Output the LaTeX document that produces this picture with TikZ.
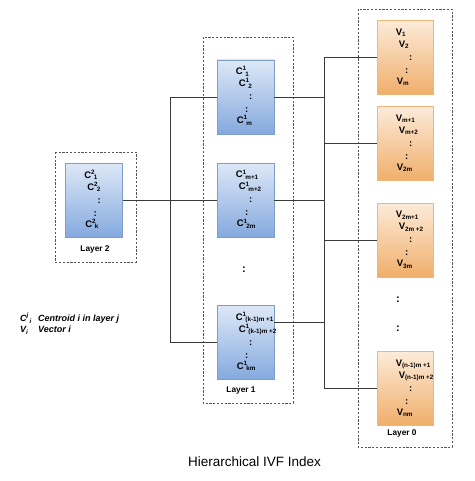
\documentclass[tikz,border=0pt]{standalone}
\usepackage{fontspec}
\setmainfont{Liberation Sans}
\definecolor{bluetop}{HTML}{DDE8F7}
\definecolor{bluebot}{HTML}{84A9DE}
\definecolor{blueedge}{HTML}{7E9DCB}
\definecolor{orgtop}{HTML}{FCEBD9}
\definecolor{orgbot}{HTML}{F0AE6A}
\definecolor{orgedge}{HTML}{EFB579}
\definecolor{linec}{HTML}{3A3A3A}
\definecolor{dashc}{HTML}{555555}
\newcommand\supfont{\fontsize{6.3}{7}\selectfont}
\newcommand\CS[3]{#1\rlap{\raisebox{3.6pt}{\supfont #2}}\hspace{2.8pt}\raisebox{-1.5pt}{\supfont #3}}
\newcommand\VS[2]{#1\raisebox{-1.5pt}{\supfont #2}}
\tikzset{
  txt/.style={inner sep=0pt, font=\fontsize{9.5}{10}\selectfont\bfseries},
  cbox/.style={draw=blueedge, line width=0.8pt, top color=bluetop, bottom color=bluebot, minimum width=57, minimum height=74, inner sep=0pt},
  vbox/.style={draw=orgedge, line width=0.8pt, top color=orgtop, bottom color=orgbot, minimum width=56, minimum height=74, inner sep=0pt},
  layerbox/.style={draw=dashc, line width=0.8pt, dash pattern=on 2.2pt off 1.6pt},
  conn/.style={draw=linec, line width=0.9pt},
  lbl/.style={inner sep=0pt, font=\fontsize{8.3}{9}\selectfont\bfseries},
}
\newcommand\boxlines[4]{%
  \begin{scope}[shift={(#1.north west)}]
    \node[txt, anchor=base west] (#1-a) at (19,15) {#2};
    \node[txt, anchor=base west] (#1-b) at (22,27) {#3};
    \node[txt, anchor=base] (#1-c) at (34,40) {:};
    \node[txt, anchor=base] (#1-d) at (30,53) {:};
    \node[txt, anchor=base west] (#1-e) at (20,64) {#4};
  \end{scope}}
\begin{document}
\begin{tikzpicture}[x=1pt, y=-1pt]
\useasboundingbox[fill=white] (0,0) rectangle (474,481);
% layer frames
\draw[layerbox] (55,152) rectangle (136,262);
\draw[layerbox] (203,37) rectangle (293,403);
\draw[layerbox] (358,9) rectangle (452,447);
% layer 2
\node[cbox] (l2) at (94,200.5) {};
\boxlines{l2}{\CS{C}{2}{1}}{\CS{C}{2}{2}}{\CS{C}{2}{k}}
\node[lbl] (l2lbl) at (95,249) {Layer 2};
% layer 1
\node[cbox] (l1a) at (245.5,97) {};
\node[cbox] (l1b) at (245.5,200) {};
\node[cbox] (l1c) at (245.5,342.5) {};
\boxlines{l1a}{\CS{C}{1}{1}}{\CS{C}{1}{2}}{\CS{C}{1}{m}}
\boxlines{l1b}{\CS{C}{1}{m+1}}{\CS{C}{1}{m+2}}{\CS{C}{1}{2m}}
\boxlines{l1c}{\CS{C}{1}{(k-1)m +1}}{\CS{C}{1}{(k-1)m +2}}{\CS{C}{1}{km}}
\node[txt, font=\fontsize{11}{12}\selectfont\bfseries] (l1dots) at (244,270) {:};
\node[lbl] (l1lbl) at (241,391) {Layer 1};
% layer 0
\node[vbox] (v1) at (405,57.5) {};
\node[vbox] (v2) at (405,143.5) {};
\node[vbox] (v3) at (405,240) {};
\node[vbox] (v4) at (405,388.5) {};
\boxlines{v1}{\VS{V}{1}}{\VS{V}{2}}{\VS{V}{m}}
\boxlines{v2}{\VS{V}{m+1}}{\VS{V}{m+2}}{\VS{V}{2m}}
\boxlines{v3}{\VS{V}{2m+1}}{\VS{V}{2m +2}}{\VS{V}{3m}}
\boxlines{v4}{\VS{V}{(n-1)m +1}}{\VS{V}{(n-1)m +2}}{\VS{V}{nm}}
\node[txt, font=\fontsize{11}{12}\selectfont\bfseries] (v0dotsa) at (398,300) {:};
\node[txt, font=\fontsize{11}{12}\selectfont\bfseries] (v0dotsb) at (398,329) {:};
\node[lbl] (l0lbl) at (402,433) {Layer 0};
% connectors
\coordinate (lbus) at (170,0);
\coordinate (rbus) at (324,0);
\draw[conn] (l2.east) -- (l2.east -| lbus);
\draw[conn] (l1a.west -| lbus) -- (l1c.west -| lbus);
\draw[conn] (l1a.west -| lbus) -- (l1a.west);
\draw[conn] (l1b.west -| lbus) -- (l1b.west);
\draw[conn] (l1c.west -| lbus) -- (l1c.west);
\draw[conn] (v1.west -| rbus) -- (v4.west -| rbus);
\draw[conn] (l1a.east) -- (l1a.east -| rbus);
\draw[conn] (l1b.east) -- (l1b.east -| rbus);
\draw[conn] ([yshift=20pt]l1c.east) -- ([yshift=20pt]l1c.east -| rbus);
\draw[conn] (v1.west -| rbus) -- (v1.west);
\draw[conn] (v2.west -| rbus) -- (v2.west);
\draw[conn] (v3.west -| rbus) -- (v3.west);
\draw[conn] (v4.west -| rbus) -- (v4.west);
% legend
\node[txt, font=\fontsize{9}{10}\selectfont\bfseries\itshape, anchor=base west] (leg1) at (20,321.5) {\makebox[18pt][l]{\CS{C}{j}{i}}Centroid i in layer j};
\node[txt, font=\fontsize{9}{10}\selectfont\bfseries\itshape, anchor=base west] (leg2) at (20,332.5) {\makebox[18pt][l]{\VS{V}{i}}Vector i};
% title
\node[inner sep=0pt, font=\fontsize{13.5}{15}\selectfont] (title) at (254.5,462) {Hierarchical IVF Index};
\end{tikzpicture}
\end{document}
